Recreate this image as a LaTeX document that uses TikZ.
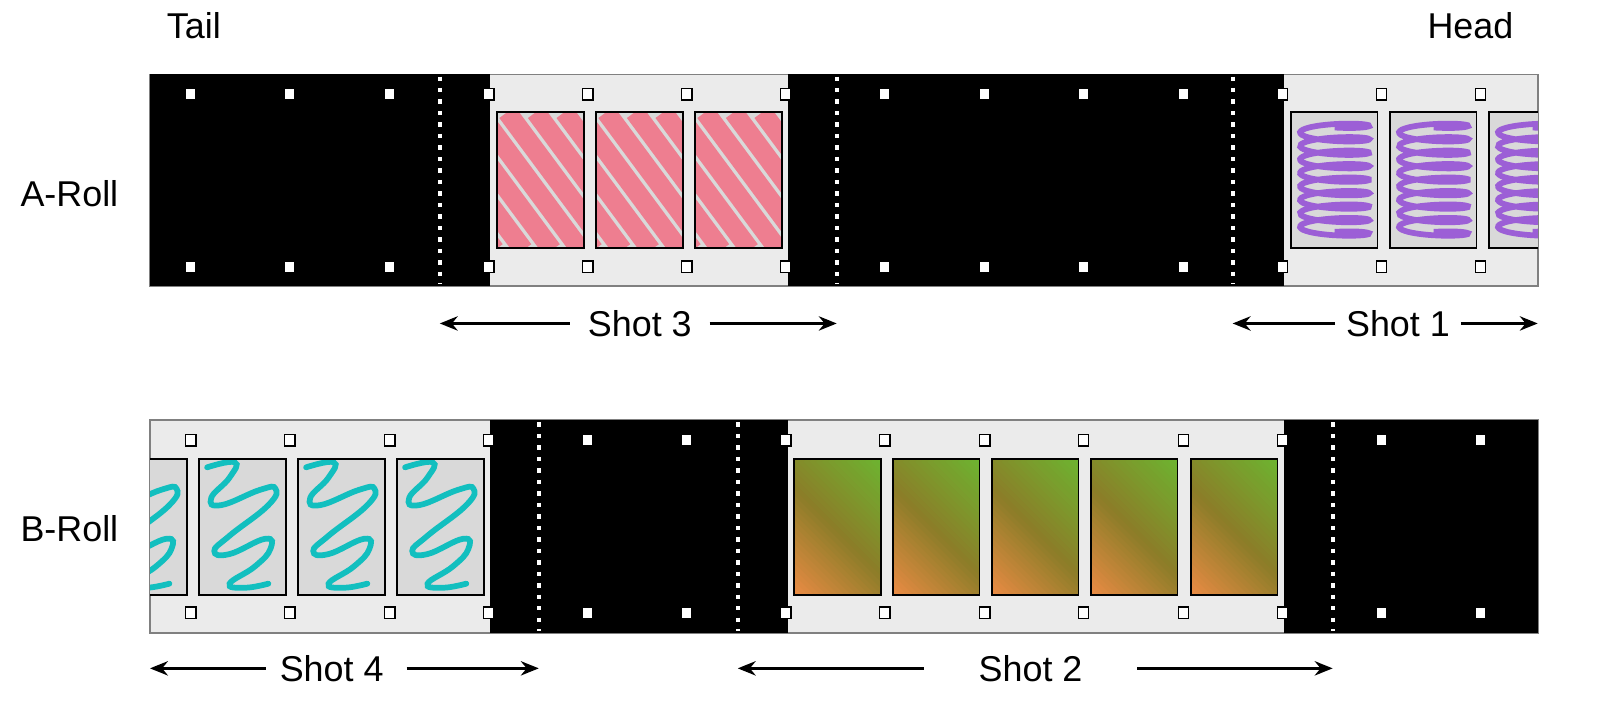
\documentclass[tikz,border=0pt]{standalone}
\usepackage{fontspec}
\setmainfont{Liberation Sans}
\usetikzlibrary{arrows.meta}
\definecolor{stripgray}{HTML}{EBEBEB}
\definecolor{framegray}{HTML}{D9D9D9}
\definecolor{pinkstripe}{HTML}{EE7E90}
\definecolor{springpurple}{HTML}{9C5FD6}
\definecolor{squigglecyan}{HTML}{12BFBF}
\definecolor{gradorange}{HTML}{F08C46}
\definecolor{gradolive}{HTML}{8C7D28}
\definecolor{gradgreen}{HTML}{6EB230}
\newcommand\filmframe[3]{% x-left, y-top, content
  \begin{scope}[shift={(#1,#2)}]
    \fill[framegray] (0,0) rectangle (85,133);
    \begin{scope}
      \clip (0,0) rectangle (85,133);
      #3
    \end{scope}
    \draw[line width=0.5pt] (0,0) rectangle (85,133);
  \end{scope}}
\newcommand\stripes{\foreach \s in {-130,-102,...,120} {
    \draw[pinkstripe,line width=5.4pt] (\s,0) -- ++(100,135);}}
\newcommand\spring{\draw[springpurple,line width=1.6pt,smooth,samples=150,domain=0:3060]
    plot ({43+34*sin(\x)},{10+\x/360*13.2+5*cos(\x)});}
\newcommand\squiggle{\draw[squigglecyan,line width=1.6pt,smooth,tension=0.8,line cap=round]
    plot coordinates {(8,8) (35,3) (30,18) (12,38) (22,45) (60,30) (75,29) (68,45) (30,75) (15,90) (30,93) (65,78) (70,88) (55,105) (30,122) (45,126) (68,122)};}
\newcommand\gradient{\foreach \c in {-138,-132,...,90} {
    \pgfmathsetmacro\p{(\c+136)/218*200}
    \pgfmathparse{\p<100 ? 1 : 0}
    \ifnum\pgfmathresult=1
      \colorlet{band}{gradolive!\p!gradorange}
    \else
      \pgfmathsetmacro\q{\p-100}
      \colorlet{band}{gradgreen!\q!gradolive}
    \fi
    \draw[band,line width=2pt] (\c,0) -- ++(140,140);}}
\tikzset{
  txt/.style={font=\fontsize{10}{12}\selectfont,inner sep=0pt},
  hole/.style={fill=white,draw=black,line width=0.4pt},
  cut/.style={white,dotted,line width=1.2pt},
  arr/.style={-{Stealth[length=5pt,width=4pt]},line width=0.7pt},
}
\begin{document}
\begin{tikzpicture}[x=0.01cm,y=-0.01cm]
  \useasboundingbox (0,0) rectangle (1568,692);
  % labels
  \node[txt] (tail) at (190,25) {Tail};
  \node[txt] (head) at (1441,25) {Head};
  \node[txt] (aroll) at (68,190) {A-Roll};
  \node[txt] (broll) at (68,518) {B-Roll};

  % A-Roll
  \fill[stripgray] (147,73) rectangle (1507,280);
  \draw[gray,line width=0.5pt] (147,73) rectangle (1507,280);
  \fill (147,73) rectangle (480,280);
  \fill (772,73) rectangle (1258,280);
  \foreach \x in {187,284,382,479,576,673,770,867,965,1062,1160,1257,1354,1451} {
    \draw[hole] (\x-5,87) rectangle (\x+5,98);
    \draw[hole] (\x-5,256) rectangle (\x+5,267);
  }
  \foreach \x in {431,820,1208} \draw[cut] (\x,75) -- (\x,278);
  \foreach \x in {487,584,681} {\filmframe{\x}{110}{\stripes}}
  \begin{scope}
    \clip (147,73) rectangle (1507,280);
    \foreach \x in {1265,1362,1459} {\filmframe{\x}{110}{\spring}}
  \end{scope}

  % B-Roll
  \fill[stripgray] (147,412) rectangle (1507,620);
  \draw[gray,line width=0.5pt] (147,412) rectangle (1507,620);
  \fill (480,412) rectangle (772,620);
  \fill (1258,412) rectangle (1507,620);
  \foreach \x in {187,284,382,479,576,673,770,867,965,1062,1160,1257,1354,1451} {
    \draw[hole] (\x-5,426) rectangle (\x+5,437);
    \draw[hole] (\x-5,595) rectangle (\x+5,606);
  }
  \foreach \x in {528,723,1306} \draw[cut] (\x,414) -- (\x,618);
  \begin{scope}
    \clip (147,412) rectangle (1507,620);
    \foreach \x in {98,195,292,389} {\filmframe{\x}{450}{\squiggle}}
  \end{scope}
  \foreach \x in {778,875,972,1069,1167} {\filmframe{\x}{450}{\gradient}}

  % shot markers
  \node[txt] (shot3) at (627,317) {Shot 3};
  \coordinate (s3l) at (431,317); \coordinate (s3r) at (820,317);
  \draw[arr] ([xshift=-0.17cm]shot3.west) -- (s3l);
  \draw[arr] ([xshift=0.17cm]shot3.east) -- (s3r);
  \node[txt] (shot1) at (1370,317) {Shot 1};
  \coordinate (s1l) at (1208,317); \coordinate (s1r) at (1507,317);
  \draw[arr] ([xshift=-0.1cm]shot1.west) -- (s1l);
  \draw[arr] ([xshift=0.1cm]shot1.east) -- (s1r);
  \node[txt] (shot4) at (325,655) {Shot 4};
  \coordinate (s4l) at (147,655); \coordinate (s4r) at (528,655);
  \draw[arr] ([xshift=-0.13cm]shot4.west) -- (s4l);
  \draw[arr] ([xshift=0.22cm]shot4.east) -- (s4r);
  \node[txt] (shot2) at (1010,655) {Shot 2};
  \coordinate (s2l) at (723,655); \coordinate (s2r) at (1306,655);
  \draw[arr] ([xshift=-0.53cm]shot2.west) -- (s2l);
  \draw[arr] ([xshift=0.53cm]shot2.east) -- (s2r);
\end{tikzpicture}
\end{document}
